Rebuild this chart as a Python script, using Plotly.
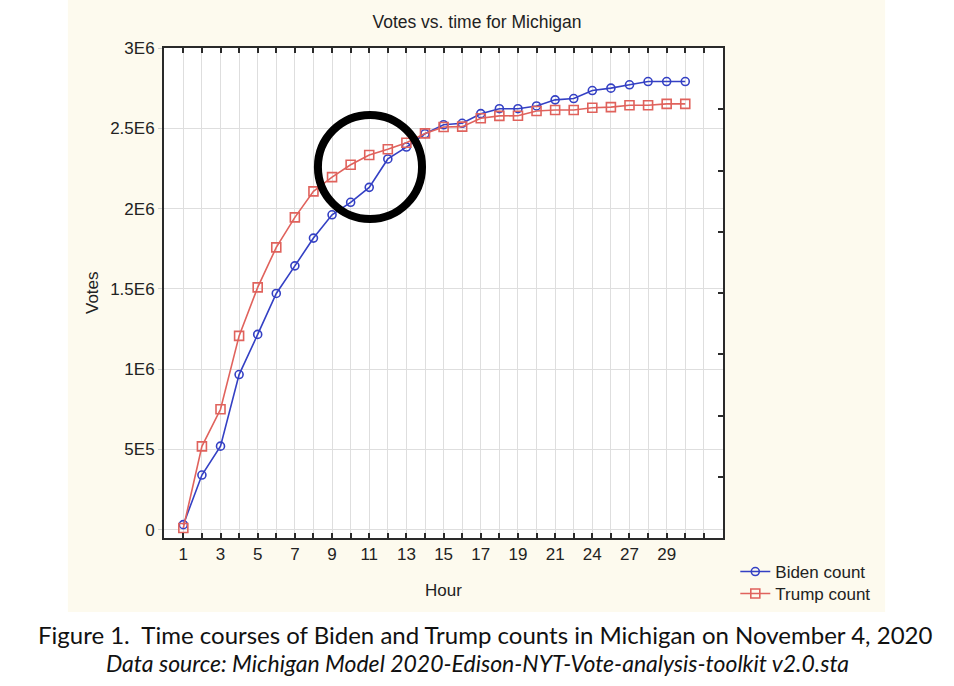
import plotly.graph_objects as go

# ---------------- data ----------------
hours = [1, 2, 3, 4, 5, 6, 7, 8, 9, 10, 11, 12, 13, 14, 15, 16, 17, 18, 19, 20, 21,
         22, 24, 25, 27, 28, 29, 30]
biden = [31000, 340000, 520000, 966000, 1216000, 1471000, 1643000, 1816000, 1961000,
         2039000, 2132000, 2309000, 2383000, 2466000, 2522000, 2531000, 2591000,
         2622000, 2622000, 2639000, 2677000, 2685000, 2735000, 2750000, 2771000,
         2791000, 2791000, 2791000]
trump = [10000, 519000, 750000, 1207000, 1509000, 1758000, 1945000, 2107000, 2196000,
         2273000, 2334000, 2369000, 2410000, 2468000, 2508000, 2510000, 2562000,
         2577000, 2578000, 2608000, 2614000, 2614000, 2628000, 2632000, 2643000,
         2643000, 2652000, 2652000]
y_tick_vals = [0, 500000, 1000000, 1500000, 2000000, 2500000, 3000000]
y_tick_text = ["0", "5E5", "1E6", "1.5E6", "2E6", "2.5E6", "3E6"]

title = "Votes vs. time for Michigan"
caption1 = "Figure 1.  Time courses of Biden and Trump counts in Michigan on November 4, 2020"
caption2 = "<i>Data source: Michigan Model 2020-Edison-NYT-Vote-analysis-toolkit v2.0.sta</i>"

# ---------------- derived positions ----------------
idx = list(range(len(hours)))
grid_idx = list(range(len(hours) + 1))
tick_text = [str(hours[i]) if (i < len(hours) and i % 2 == 0) else "" for i in grid_idx]

FONT = "Liberation Sans, Arial, sans-serif"
BLUE = "#3440c4"
RED = "#e0625c"
AX = "#2a2a2a"
TXT = "#222222"

fig = go.Figure()
fig.add_trace(go.Scatter(
    x=idx, y=biden, name="Biden count", mode="lines+markers", legend="legend",
    line=dict(color=BLUE, width=1.6),
    marker=dict(symbol="circle-open", size=8, color=BLUE, line=dict(width=1.6)),
))
fig.add_trace(go.Scatter(
    x=idx, y=trump, name="Trump count", mode="lines+markers", legend="legend2",
    line=dict(color=RED, width=1.6),
    marker=dict(symbol="square-open", size=9, color=RED, line=dict(width=1.6)),
))
fig.add_trace(go.Scatter(x=[0], y=[0], yaxis="y2", mode="markers",
                         marker=dict(opacity=0), showlegend=False, hoverinfo="skip"))

# highlight ring around the crossover region
cx, cy = 10.04, 2259000
rx, ry = 2.80, 324000
shapes = [
    dict(type="rect", xref="paper", yref="paper", x0=-0.172, x1=1.29, y0=-0.151, y1=1.10,
         fillcolor="#fdfaee", line=dict(width=0), layer="below"),
    dict(type="rect", xref="paper", yref="paper", x0=0, x1=1, y0=0, y1=1,
         fillcolor="#ffffff", line=dict(width=0), layer="below"),
    dict(type="circle", xref="x", yref="y", x0=cx - rx, x1=cx + rx, y0=cy - ry, y1=cy + ry,
         line=dict(color="#000000", width=8), layer="above"),
]

legend_style = dict(xanchor="left", yanchor="top", bgcolor="rgba(0,0,0,0)",
                    font=dict(family=FONT, size=17, color=TXT))

fig.update_layout(
    width=954, height=686,
    margin=dict(l=164, r=231, t=48, b=148),
    paper_bgcolor="#ffffff", plot_bgcolor="#ffffff",
    font=dict(family=FONT, size=17, color=TXT),
    title=dict(text=title, x=0.5, xref="container", xanchor="center",
               y=1 - 22 / 686, yref="container", yanchor="middle",
               font=dict(family=FONT, size=17.5, color=TXT)),
    xaxis=dict(range=[-1.04, 29.03], tickmode="array", tickvals=grid_idx, ticktext=tick_text,
               showgrid=True, gridcolor="#dedede", gridwidth=1, zeroline=False,
               showline=True, linecolor=AX, linewidth=2, mirror="ticks",
               ticks="inside", ticklen=5, tickcolor=AX, tickwidth=1.5,
               tickfont=dict(family=FONT, size=17, color=TXT)),
    yaxis=dict(range=[-52000, 3000000], tickmode="array", tickvals=y_tick_vals,
               ticktext=y_tick_text, showgrid=True, gridcolor="#dedede", gridwidth=1,
               zeroline=False, showline=True, linecolor=AX, linewidth=2,
               ticks="outside", ticklen=4, tickcolor="#d0d0d0",
               tickfont=dict(family=FONT, size=17, color=TXT)),
    yaxis2=dict(overlaying="y", side="right", range=[0, 8], tickmode="array",
                tickvals=list(range(9)), showticklabels=False, showgrid=False,
                zeroline=False, showline=True, linecolor=AX, linewidth=2,
                ticks="inside", ticklen=5, tickcolor=AX, tickwidth=1.5),
    legend=dict(x=1.022, y=-0.0327, **legend_style),
    legend2=dict(x=1.022, y=-0.0776, **legend_style),
    shapes=shapes,
    showlegend=True,
    annotations=[
        dict(text="Votes", xref="paper", yref="paper", x=(92 - 164) / 559, y=0.5,
             textangle=-90, showarrow=False, xanchor="center", yanchor="middle",
             font=dict(family=FONT, size=17, color=TXT)),
        dict(text="Hour", xref="paper", yref="paper", x=(443 - 164) / 559, y=(538 - 590) / 490,
             showarrow=False, xanchor="center", yanchor="middle",
             font=dict(family=FONT, size=17, color=TXT)),
        dict(text=caption1, xref="paper", yref="paper", x=(485 - 164) / 559,
             y=(538 - 634) / 490, showarrow=False, xanchor="center", yanchor="middle",
             font=dict(family="Lato, sans-serif", size=24, color="#111111")),
        dict(text=caption2, xref="paper", yref="paper", x=(477 - 164) / 559,
             y=(538 - 663) / 490, showarrow=False, xanchor="center", yanchor="middle",
             font=dict(family="Lato, sans-serif", size=23, color="#111111")),
    ],
)

fig.write_html("out.html")
